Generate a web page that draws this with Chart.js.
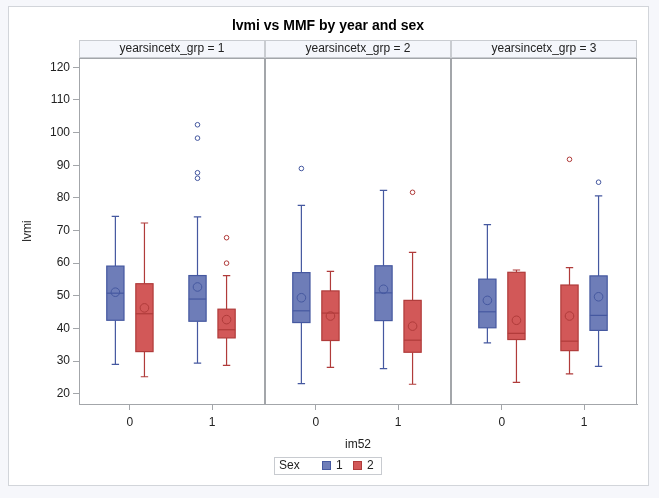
<!DOCTYPE html>
<html>
<head>
<meta charset="utf-8">
<script src="https://cdn.jsdelivr.net/npm/chart.js@4/dist/chart.umd.min.js"></script>
<style>
  html, body { margin: 0; padding: 0; background: #f6f7fb; }
  #wrap { width: 659px; height: 498px; }
</style>
</head>
<body>
<div id="wrap"><canvas id="boxChart" width="659" height="498"></canvas></div>
<script>
// panels and categories
var panelLabels = ['yearsincetx_grp = 1', 'yearsincetx_grp = 2', 'yearsincetx_grp = 3'];
var im52Values = [0, 1];
var xTickLabels = ['0', '1'];
var yTickValues = [20, 30, 40, 50, 60, 70, 80, 90, 100, 110, 120];
var sexLabels = ['1', '2'];

// cell order: panel1/im52=0, panel1/im52=1, panel2/0, panel2/1, panel3/0, panel3/1
// order of the sex groups inside each cell (as SAS placed them)
var groupOrder = [['1', '2'], ['1', '2'], ['1', '2'], ['1', '2'], ['1', '2'], ['2', '1']];

// sex = 1
var sex1Min    = [29.0, 29.4, 23.1, 27.7, 35.6, 28.4];
var sex1Q1     = [42.5, 42.2, 41.8, 42.4, 40.2, 39.4];
var sex1Median = [50.8, 49.0, 45.4, 50.9, 45.1, 44.0];
var sex1Q3     = [59.1, 56.2, 57.1, 59.2, 55.1, 56.1];
var sex1Max    = [74.3, 74.2, 77.7, 82.3, 71.8, 80.6];
var sex1Mean   = [51.1, 52.7, 49.4, 52.0, 48.6, 49.7];
var sex1Outliers = [[], [102.4, 98.3, 87.7, 86.0], [89.0], [], [], [84.8]];

// sex = 2
var sex2Min    = [25.2, 28.7, 28.1, 22.9, 23.5, 26.1];
var sex2Q1     = [32.9, 37.1, 36.3, 32.7, 36.6, 33.2];
var sex2Median = [44.5, 39.6, 44.7, 36.4, 38.5, 36.1];
var sex2Q3     = [53.7, 45.9, 51.5, 48.6, 57.2, 53.3];
var sex2Max    = [72.3, 56.2, 57.5, 63.3, 57.9, 58.6];
var sex2Mean   = [46.3, 42.7, 43.8, 40.7, 42.5, 43.8];
var sex2Outliers = [[], [67.8, 60.0], [], [81.7], [], [91.8]];

var stats = {
    '1': { min: sex1Min, q1: sex1Q1, med: sex1Median, q3: sex1Q3, max: sex1Max, mean: sex1Mean, out: sex1Outliers },
    '2': { min: sex2Min, q1: sex2Q1, med: sex2Median, q3: sex2Q3, max: sex2Max, mean: sex2Mean, out: sex2Outliers }
};

var colors = {
    '1': { fill: '#6e7db8', line: '#4558a0' },
    '2': { fill: '#d25858', line: '#b03b3a' }
};

// x layout: each panel spans SPAN units of a linear axis
var SPAN = 2.265, PAD = 0.62, OFF = 0.177, HALF = 0.105, CAP = 0.045;

function cellX(cell, sex) {
    var p = Math.floor(cell / 2);
    var v = im52Values[cell % 2];
    var k = groupOrder[cell].indexOf(sex);
    return p * SPAN + v + (k === 0 ? -OFF : OFF);
}

function pointsFor(sex, what) {
    var pts = [];
    for (var c = 0; c < 6; c++) {
        if (what === 'mean') {
            pts.push({ x: cellX(c, sex), y: stats[sex].mean[c] });
        } else {
            stats[sex].out[c].forEach(function (y) { pts.push({ x: cellX(c, sex), y: y }); });
        }
    }
    return pts;
}

var datasets = [];
sexLabels.forEach(function (s) {
    datasets.push({
        label: 'mean ' + s, data: pointsFor(s, 'mean'),
        pointRadius: 4.3, pointBorderWidth: 1, pointBorderColor: colors[s].line,
        pointBackgroundColor: 'rgba(0,0,0,0)', showLine: false, clip: false
    });
    datasets.push({
        label: 'outlier ' + s, data: pointsFor(s, 'out'),
        pointRadius: 2.3, pointBorderWidth: 1, pointBorderColor: colors[s].line,
        pointBackgroundColor: 'rgba(0,0,0,0)', showLine: false, clip: false
    });
});

var framePlugin = {
    id: 'frame',
    beforeDraw: function (chart) {
        var ctx = chart.ctx;
        ctx.save();
        ctx.fillStyle = '#f6f7fb';
        ctx.fillRect(0, 0, chart.width, chart.height);
        ctx.fillStyle = '#ffffff';
        ctx.fillRect(8, 6, 640, 479);
        ctx.strokeStyle = '#d2d5da';
        ctx.lineWidth = 1;
        ctx.strokeRect(8.5, 6.5, 640, 479);
        ctx.restore();
    },
    beforeDatasetsDraw: function (chart) {
        var ctx = chart.ctx, xs = chart.scales.x, ys = chart.scales.y;
        ctx.save();
        for (var c = 0; c < 6; c++) {
            sexLabels.forEach(function (s) {
                var st = stats[s], xc = cellX(c, s);
                var px = xs.getPixelForValue(xc);
                var hw = xs.getPixelForValue(xc + HALF) - px;
                var cw = xs.getPixelForValue(xc + CAP) - px;
                var yMin = ys.getPixelForValue(st.min[c]), yMax = ys.getPixelForValue(st.max[c]);
                var yQ1 = ys.getPixelForValue(st.q1[c]), yQ3 = ys.getPixelForValue(st.q3[c]);
                var yMed = ys.getPixelForValue(st.med[c]);
                ctx.strokeStyle = colors[s].line;
                ctx.lineWidth = 1.2;
                ctx.beginPath();
                ctx.moveTo(px, yQ3); ctx.lineTo(px, yMax);
                ctx.moveTo(px - cw, yMax); ctx.lineTo(px + cw, yMax);
                ctx.moveTo(px, yQ1); ctx.lineTo(px, yMin);
                ctx.moveTo(px - cw, yMin); ctx.lineTo(px + cw, yMin);
                ctx.stroke();
                ctx.fillStyle = colors[s].fill;
                ctx.fillRect(px - hw, yQ3, hw * 2, yQ1 - yQ3);
                ctx.strokeRect(px - hw, yQ3, hw * 2, yQ1 - yQ3);
                ctx.beginPath();
                ctx.moveTo(px - hw, yMed); ctx.lineTo(px + hw, yMed);
                ctx.stroke();
            });
        }
        ctx.restore();
    },
    afterDraw: function (chart) {
        var ctx = chart.ctx, a = chart.chartArea;
        var pw = (a.right - a.left) / 3;
        ctx.save();
        // panel borders
        ctx.strokeStyle = '#a3a6aa';
        ctx.lineWidth = 1;
        ctx.strokeRect(a.left + 0.5, a.top + 0.5, a.right - a.left - 1, a.bottom - a.top);
        ctx.lineWidth = 2;
        for (var p = 1; p < 3; p++) {
            ctx.beginPath();
            ctx.moveTo(Math.round(a.left + p * pw), a.top);
            ctx.lineTo(Math.round(a.left + p * pw), a.bottom);
            ctx.stroke();
        }
        // panel headers
        ctx.font = '12px "Liberation Sans", Arial, sans-serif';
        ctx.textAlign = 'center';
        ctx.textBaseline = 'middle';
        for (p = 0; p < 3; p++) {
            var x0 = Math.round(a.left + p * pw);
            ctx.fillStyle = '#f4f6fb';
            ctx.fillRect(x0, 40, pw, 18);
            ctx.strokeStyle = '#c9ccd1';
            ctx.lineWidth = 1;
            ctx.strokeRect(x0 + 0.5, 40.5, pw - 1, 17);
            ctx.fillStyle = '#222';
            ctx.fillText(panelLabels[p], x0 + pw / 2, 49);
        }
        // title
        ctx.fillStyle = '#000';
        ctx.font = 'bold 14px "Liberation Sans", Arial, sans-serif';
        ctx.fillText('lvmi vs MMF by year and sex', 328, 26);
        // legend
        var lx = 274, ly = 457;
        ctx.fillStyle = '#fff';
        ctx.fillRect(lx, ly, 107, 17);
        ctx.strokeStyle = '#c8cbd0';
        ctx.strokeRect(lx + 0.5, ly + 0.5, 107, 17);
        ctx.font = '12px "Liberation Sans", Arial, sans-serif';
        ctx.textAlign = 'left';
        ctx.fillStyle = '#222';
        ctx.fillText('Sex', lx + 5, ly + 9);
        var sx = lx + 48;
        sexLabels.forEach(function (s) {
            ctx.fillStyle = colors[s].fill;
            ctx.fillRect(sx, ly + 4, 9, 9);
            ctx.strokeStyle = colors[s].line;
            ctx.strokeRect(sx + 0.5, ly + 4.5, 8, 8);
            ctx.fillStyle = '#222';
            ctx.fillText(s, sx + 14, ly + 9);
            sx += 31;
        });
        ctx.restore();
    }
};

var config = {
    type: 'scatter',
    data: { datasets: datasets },
    options: {
        responsive: false,
        animation: false,
        devicePixelRatio: 1,
        layout: { padding: { top: 58, right: 22, left: 0, bottom: 0 } },
        plugins: { legend: { display: false }, tooltip: { enabled: false } },
        scales: {
            x: {
                type: 'linear',
                min: -PAD,
                max: 3 * SPAN - PAD,
                afterBuildTicks: function (scale) {
                    var t = [];
                    for (var p = 0; p < 3; p++) {
                        im52Values.forEach(function (v) { t.push({ value: p * SPAN + v }); });
                    }
                    scale.ticks = t;
                },
                afterFit: function (scale) { scale.height = 94; },
                ticks: {
                    autoSkip: false, maxRotation: 0, padding: 5,
                    color: '#222', font: { family: '"Liberation Sans", Arial', size: 12 },
                    callback: function (value, index) { return xTickLabels[index % 2]; }
                },
                grid: { drawOnChartArea: false, tickLength: 6, tickColor: '#a3a6aa' },
                border: { color: '#a3a6aa' },
                title: {
                    display: true, text: 'im52', color: '#222',
                    font: { family: '"Liberation Sans", Arial', size: 12 },
                    padding: { top: 0, bottom: 46 }
                }
            },
            y: {
                min: 16.85,
                max: 122.85,
                afterBuildTicks: function (scale) {
                    scale.ticks = yTickValues.map(function (v) { return { value: v }; });
                },
                afterFit: function (scale) { scale.width = 79; },
                ticks: {
                    padding: 3, color: '#222',
                    font: { family: '"Liberation Sans", Arial', size: 12 }
                },
                grid: { drawOnChartArea: false, tickLength: 6, tickColor: '#a3a6aa' },
                border: { color: '#a3a6aa' },
                title: {
                    display: true, text: 'lvmi', color: '#222',
                    font: { family: '"Liberation Sans", Arial', size: 12 },
                    padding: { top: 20, bottom: 0 }
                }
            }
        }
    },
    plugins: [framePlugin]
};

window.onload = function () {
    var ctx = document.getElementById('boxChart').getContext('2d');
    window.boxChart = new Chart(ctx, config);
};
</script>
</body>
</html>
